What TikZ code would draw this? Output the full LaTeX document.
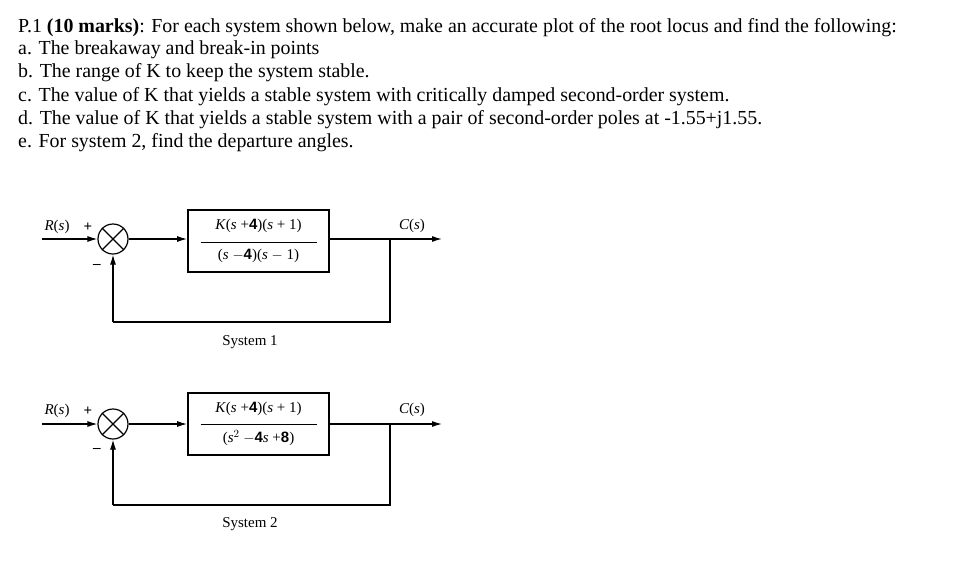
\documentclass[tikz,border=0pt]{standalone}
\usepackage{fontspec}
\setmainfont{Liberation Serif}
\setsansfont{Liberation Sans}
\usetikzlibrary{arrows.meta}
\newcommand{\bd}[1]{{\sffamily\bfseries #1}}
\begin{document}
\begin{tikzpicture}[x=1pt,y=-1pt,
  hdr/.style={anchor=west,font=\fontsize{19.9}{22}\selectfont,inner sep=0},
  lbl/.style={font=\fontsize{15}{17}\selectfont,inner sep=0},
  sumj/.style={draw,circle,minimum size=30pt,inner sep=0,line width=1.2pt},
  blk/.style={draw,line width=1.8pt,minimum width=141pt,minimum height=62pt,inner sep=0},
  ln/.style={line width=1.2pt},
  arr/.style={ln,-{Latex[length=10pt,width=6pt]}}]
\useasboundingbox (0,0) rectangle (955,563);
\node[hdr] (h1) at (18,28) {P.1 \textbf{(10 marks)}: For each system shown below, make an accurate plot of the root locus and find the following:};
\node[hdr] (h2) at (18,50) {a. The breakaway and break-in points};
\node[hdr] (h3) at (18,73) {b. The range of K to keep the system stable.};
\node[hdr] (h4) at (18,97) {c. The value of K that yields a stable system with critically damped second-order system.};
\node[hdr] (h5) at (18,120) {d. The value of K that yields a stable system with a pair of second-order poles at -1.55+j1.55.};
\node[hdr] (h6) at (18,143) {e. For system 2, find the departure angles.};
% System 1
\coordinate (in1) at (42,239);
\node[sumj] (s1) at (113,239) {};
\draw[ln] (s1.north west)--(s1.south east) (s1.north east)--(s1.south west);
\node[blk] (b1) at (258.5,241) {};
\node[lbl] (f1) at (258.5,241) {\begin{tabular}{@{}c@{}}\textit{K}(\textit{s} +\bd{4})(\textit{s} + 1)\\[-4pt]\rule{116pt}{0.8pt}\\(\textit{s} $-$\bd{4})(\textit{s} $-$ 1)\end{tabular}};
\coordinate (br1) at (390,239);
\coordinate (out1) at (442,239);
\coordinate (fb1) at (390,322);
\coordinate (fc1) at (113,322);
\draw[arr] (in1)--(s1);
\draw[arr] (s1)--(b1.west|-s1);
\draw[ln] (b1.east|-s1)--(br1);
\draw[arr] (br1)--(out1);
\draw[ln] (br1)--(fb1)--(fc1);
\draw[arr] (fc1)--(s1);
\node[lbl] (r1) at (57,227) {\textit{R}(\textit{s})};
\node[lbl] (p1) at (88,227) {\textbf{+}};
\node[lbl] (m1) at (97,266) {\textbf{--}};
\node[lbl] (c1) at (412,226) {\textit{C}(\textit{s})};
\node[lbl] (t1) at (250,342) {System 1};
% System 2
\coordinate (in2) at (42,424);
\node[sumj] (s2) at (113,424) {};
\draw[ln] (s2.north west)--(s2.south east) (s2.north east)--(s2.south west);
\node[blk] (b2) at (258.5,424) {};
\node[lbl] (f2) at (258.5,424) {\begin{tabular}{@{}c@{}}\textit{K}(\textit{s} +\bd{4})(\textit{s} + 1)\\[-4pt]\rule{116pt}{0.8pt}\\(\textit{s}$^2$ $-$\bd{4}\textit{s} +\bd{8})\end{tabular}};
\coordinate (br2) at (390,424);
\coordinate (out2) at (442,424);
\coordinate (fb2) at (390,505);
\coordinate (fc2) at (113,505);
\draw[arr] (in2)--(s2);
\draw[arr] (s2)--(b2.west|-s2);
\draw[ln] (b2.east|-s2)--(br2);
\draw[arr] (br2)--(out2);
\draw[ln] (br2)--(fb2)--(fc2);
\draw[arr] (fc2)--(s2);
\node[lbl] (r2) at (57,411) {\textit{R}(\textit{s})};
\node[lbl] (p2) at (88,411) {\textbf{+}};
\node[lbl] (m2) at (97,450) {\textbf{--}};
\node[lbl] (c2) at (412,410) {\textit{C}(\textit{s})};
\node[lbl] (t2) at (250,524) {System 2};
\end{tikzpicture}
\end{document}
